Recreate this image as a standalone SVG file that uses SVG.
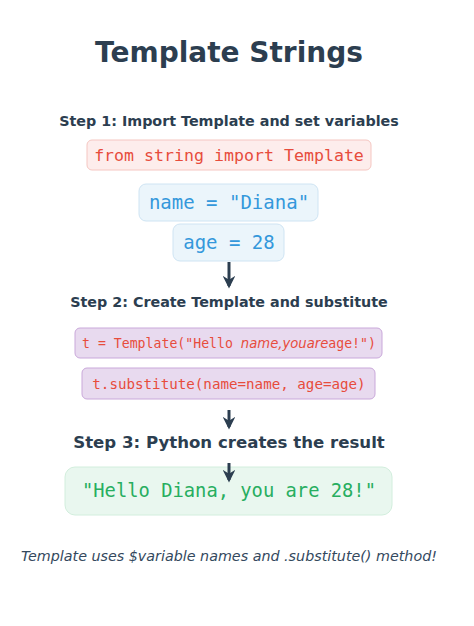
<svg xmlns="http://www.w3.org/2000/svg" width="474" height="626" viewBox="0 0 474 626">
<style>
.h{font-family:"DejaVu Sans",sans-serif;font-weight:bold;fill:#2c3e50;text-anchor:middle}
.m{font-family:"DejaVu Sans Mono",monospace;text-anchor:middle}
.red{fill:#e74c3c}
.blue{fill:#3498db}
.grn{fill:#27ae60}
.bred{fill:#fdedec;stroke:#f5c6c1;stroke-width:1}
.bblue{fill:#ebf5fb;stroke:#cfe4f3;stroke-width:1}
.bpur{fill:#e8daef;stroke:#c9a8da;stroke-width:1}
.bgrn{fill:#e9f7ef;stroke:#d2eedd;stroke-width:1}
.ar{stroke:#2c3e50;stroke-width:3;fill:none}
</style>
<defs>
<marker id="ah" viewBox="0 0 10 10" refX="8" refY="5" markerWidth="4.2" markerHeight="4.2" orient="auto" markerUnits="strokeWidth">
<path d="M0,0 L10,5 L0,10 L3,5 Z" fill="#2c3e50"/>
</marker>
</defs>
<rect width="474" height="626" fill="#ffffff"/>
<text class="h" x="229" y="62" font-size="28">Template Strings</text>
<text class="h" x="229" y="126" font-size="14.3">Step 1: Import Template and set variables</text>
<g id="import">
<rect class="bred" x="87" y="140" width="284" height="30" rx="5"/>
<text class="m red" x="229" y="161" font-size="16.6">from string import Template</text>
</g>
<g id="name">
<rect class="bblue" x="139" y="184" width="179" height="37" rx="7"/>
<text class="m blue" x="229" y="209" font-size="19">name = "Diana"</text>
</g>
<g id="age">
<rect class="bblue" x="173" y="224" width="111" height="37" rx="7"/>
<text class="m blue" x="229" y="249" font-size="19">age = 28</text>
</g>
<text class="h" x="229" y="307" font-size="14.3">Step 2: Create Template and substitute</text>
<g id="template">
<rect class="bpur" x="75" y="328" width="307" height="30" rx="5"/>
<text class="m red" x="229" y="348" font-size="13.2">t = Template("Hello <tspan font-family="DejaVu Sans,sans-serif" font-style="italic">name,youare</tspan>age!")</text>
</g>
<g id="substitute">
<rect class="bpur" x="82" y="368" width="293" height="31" rx="5"/>
<text class="m red" x="229" y="389" font-size="14.2">t.substitute(name=name, age=age)</text>
</g>
<text class="h" x="229" y="448" font-size="16.6">Step 3: Python creates the result</text>
<g id="result">
<rect class="bgrn" x="65" y="467" width="327" height="48" rx="10"/>
<text class="m grn" x="229" y="497" font-size="18.8">"Hello Diana, you are 28!"</text>
</g>
<g id="connectors">
<line class="ar" x1="229" y1="262" x2="229" y2="286" marker-end="url(#ah)"/>
<line class="ar" x1="229" y1="410" x2="229" y2="427" marker-end="url(#ah)"/>
<line class="ar" x1="229" y1="463" x2="229" y2="480" marker-end="url(#ah)"/>
</g>
<text x="229" y="561" font-family="DejaVu Sans,sans-serif" font-style="italic" font-size="14.3" fill="#34495e" text-anchor="middle">Template uses $variable names and .substitute() method!</text>
</svg>
